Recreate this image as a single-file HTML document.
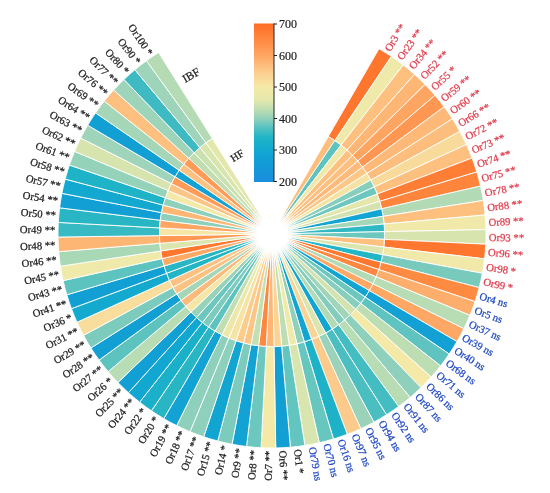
<!DOCTYPE html><html><head><meta charset="utf-8"><title>Circular heatmap</title><style>html,body{margin:0;padding:0;background:#fff}body{width:550px;height:493px;overflow:hidden}</style></head><body><svg width="550" height="493" viewBox="0 0 550 493" style="display:block">
<defs><linearGradient id="cb" x1="0" y1="1" x2="0" y2="0">
<stop offset="0.00" stop-color="#1a8ddf"/>
<stop offset="0.10" stop-color="#1399d8"/>
<stop offset="0.20" stop-color="#12a8d0"/>
<stop offset="0.28" stop-color="#1fb4c6"/>
<stop offset="0.34" stop-color="#52c0c0"/>
<stop offset="0.40" stop-color="#92d1bb"/>
<stop offset="0.46" stop-color="#c0deb2"/>
<stop offset="0.52" stop-color="#e6e8ac"/>
<stop offset="0.60" stop-color="#f5e9a8"/>
<stop offset="0.70" stop-color="#fccb8c"/>
<stop offset="0.80" stop-color="#ffa562"/>
<stop offset="0.90" stop-color="#ff8840"/>
<stop offset="1.00" stop-color="#ff6c24"/>
</linearGradient></defs>
<rect width="550" height="493" fill="#fff"/>
<g stroke="#fff" stroke-width="0.9" stroke-linejoin="round">
<path d="M328.25 136.57L379.00 48.67A214.0 214.0 0 0 1 391.42 56.42L334.78 140.65A112.5 112.5 0 0 0 328.25 136.57Z" fill="#ff762e"/>
<path d="M275.50 227.94L328.25 136.57A112.5 112.5 0 0 1 334.78 140.65L275.91 228.19A7.0 7.0 0 0 0 275.50 227.94Z" fill="#fdbd7d"/>
<path d="M334.78 140.65L391.42 56.42A214.0 214.0 0 0 1 403.29 65.00L341.02 145.16A112.5 112.5 0 0 0 334.78 140.65Z" fill="#efe9aa"/>
<path d="M275.91 228.19L334.78 140.65A112.5 112.5 0 0 1 341.02 145.16L276.29 228.47A7.0 7.0 0 0 0 275.91 228.19Z" fill="#5dc3bf"/>
<path d="M341.02 145.16L403.29 65.00A214.0 214.0 0 0 1 414.54 74.38L346.93 150.09A112.5 112.5 0 0 0 341.02 145.16Z" fill="#fdc07f"/>
<path d="M276.29 228.47L341.02 145.16A112.5 112.5 0 0 1 346.93 150.09L276.66 228.78A7.0 7.0 0 0 0 276.29 228.47Z" fill="#f1e9a9"/>
<path d="M346.93 150.09L414.54 74.38A214.0 214.0 0 0 1 425.12 84.50L352.49 155.41A112.5 112.5 0 0 0 346.93 150.09Z" fill="#feb674"/>
<path d="M276.66 228.78L346.93 150.09A112.5 112.5 0 0 1 352.49 155.41L277.01 229.11A7.0 7.0 0 0 0 276.66 228.78Z" fill="#fdc07f"/>
<path d="M352.49 155.41L425.12 84.50A214.0 214.0 0 0 1 434.98 95.32L357.68 161.09A112.5 112.5 0 0 0 352.49 155.41Z" fill="#ffa562"/>
<path d="M277.01 229.11L352.49 155.41A112.5 112.5 0 0 1 357.68 161.09L277.33 229.46A7.0 7.0 0 0 0 277.01 229.11Z" fill="#fdc07f"/>
<path d="M357.68 161.09L434.98 95.32A214.0 214.0 0 0 1 444.08 106.79L362.46 167.12A112.5 112.5 0 0 0 357.68 161.09Z" fill="#ff9651"/>
<path d="M277.33 229.46L357.68 161.09A112.5 112.5 0 0 1 362.46 167.12L277.63 229.84A7.0 7.0 0 0 0 277.33 229.46Z" fill="#fdba7a"/>
<path d="M362.46 167.12L444.08 106.79A214.0 214.0 0 0 1 452.38 118.85L366.83 173.47A112.5 112.5 0 0 0 362.46 167.12Z" fill="#feb877"/>
<path d="M277.63 229.84L362.46 167.12A112.5 112.5 0 0 1 366.83 173.47L277.90 230.23A7.0 7.0 0 0 0 277.63 229.84Z" fill="#fcc788"/>
<path d="M366.83 173.47L452.38 118.85A214.0 214.0 0 0 1 459.83 131.46L370.74 180.09A112.5 112.5 0 0 0 366.83 173.47Z" fill="#fdbd7d"/>
<path d="M277.90 230.23L366.83 173.47A112.5 112.5 0 0 1 370.74 180.09L278.14 230.65A7.0 7.0 0 0 0 277.90 230.23Z" fill="#f6e3a2"/>
<path d="M370.74 180.09L459.83 131.46A214.0 214.0 0 0 1 466.40 144.54L374.20 186.97A112.5 112.5 0 0 0 370.74 180.09Z" fill="#f8da9a"/>
<path d="M278.14 230.65L370.74 180.09A112.5 112.5 0 0 1 374.20 186.97L278.36 231.07A7.0 7.0 0 0 0 278.14 230.65Z" fill="#87cebc"/>
<path d="M374.20 186.97L466.40 144.54A214.0 214.0 0 0 1 472.07 158.04L377.18 194.07A112.5 112.5 0 0 0 374.20 186.97Z" fill="#fdc07f"/>
<path d="M278.36 231.07L374.20 186.97A112.5 112.5 0 0 1 377.18 194.07L278.54 231.52A7.0 7.0 0 0 0 278.36 231.07Z" fill="#6cc7be"/>
<path d="M377.18 194.07L472.07 158.04A214.0 214.0 0 0 1 476.79 171.90L379.66 201.36A112.5 112.5 0 0 0 377.18 194.07Z" fill="#ff7e36"/>
<path d="M278.54 231.52L377.18 194.07A112.5 112.5 0 0 1 379.66 201.36L278.70 231.97A7.0 7.0 0 0 0 278.54 231.52Z" fill="#e3e7ac"/>
<path d="M379.66 201.36L476.79 171.90A214.0 214.0 0 0 1 480.56 186.05L381.64 208.79A112.5 112.5 0 0 0 379.66 201.36Z" fill="#ff843c"/>
<path d="M278.70 231.97L379.66 201.36A112.5 112.5 0 0 1 381.64 208.79L278.82 232.43A7.0 7.0 0 0 0 278.70 231.97Z" fill="#d3e3af"/>
<path d="M381.64 208.79L480.56 186.05A214.0 214.0 0 0 1 483.35 200.43L383.11 216.35A112.5 112.5 0 0 0 381.64 208.79Z" fill="#b1dab5"/>
<path d="M278.82 232.43L381.64 208.79A112.5 112.5 0 0 1 383.11 216.35L278.91 232.90A7.0 7.0 0 0 0 278.82 232.43Z" fill="#12a4d2"/>
<path d="M383.11 216.35L483.35 200.43A214.0 214.0 0 0 1 485.15 214.96L384.05 223.99A112.5 112.5 0 0 0 383.11 216.35Z" fill="#fdc07f"/>
<path d="M278.91 232.90L383.11 216.35A112.5 112.5 0 0 1 384.05 223.99L278.97 233.38A7.0 7.0 0 0 0 278.91 232.90Z" fill="#a4d6b7"/>
<path d="M384.05 223.99L485.15 214.96A214.0 214.0 0 0 1 485.95 229.58L384.48 231.67A112.5 112.5 0 0 0 384.05 223.99Z" fill="#f1e9a9"/>
<path d="M278.97 233.38L384.05 223.99A112.5 112.5 0 0 1 384.48 231.67L279.00 233.86A7.0 7.0 0 0 0 278.97 233.38Z" fill="#30b8c4"/>
<path d="M384.48 231.67L485.95 229.58A214.0 214.0 0 0 1 485.76 244.22L384.37 239.37A112.5 112.5 0 0 0 384.48 231.67Z" fill="#d7e4ae"/>
<path d="M279.00 233.86L384.48 231.67A112.5 112.5 0 0 1 384.37 239.37L278.99 234.33A7.0 7.0 0 0 0 279.00 233.86Z" fill="#6cc7be"/>
<path d="M384.37 239.37L485.76 244.22A214.0 214.0 0 0 1 484.56 258.81L383.74 247.04A112.5 112.5 0 0 0 384.37 239.37Z" fill="#ff762e"/>
<path d="M278.99 234.33L384.37 239.37A112.5 112.5 0 0 1 383.74 247.04L278.95 234.81A7.0 7.0 0 0 0 278.99 234.33Z" fill="#fdc07f"/>
<path d="M383.74 247.04L484.56 258.81A214.0 214.0 0 0 1 482.36 273.29L382.59 254.65A112.5 112.5 0 0 0 383.74 247.04Z" fill="#f1e9a9"/>
<path d="M278.95 234.81L383.74 247.04A112.5 112.5 0 0 1 382.59 254.65L278.88 235.29A7.0 7.0 0 0 0 278.95 234.81Z" fill="#dce5ae"/>
<path d="M382.59 254.65L482.36 273.29A214.0 214.0 0 0 1 479.18 287.58L380.92 262.17A112.5 112.5 0 0 0 382.59 254.65Z" fill="#78cabd"/>
<path d="M278.88 235.29L382.59 254.65A112.5 112.5 0 0 1 380.92 262.17L278.78 235.75A7.0 7.0 0 0 0 278.88 235.29Z" fill="#22b5c6"/>
<path d="M380.92 262.17L479.18 287.58A214.0 214.0 0 0 1 475.03 301.62L378.74 269.55A112.5 112.5 0 0 0 380.92 262.17Z" fill="#ff8b43"/>
<path d="M278.78 235.75L380.92 262.17A112.5 112.5 0 0 1 378.74 269.55L278.64 236.21A7.0 7.0 0 0 0 278.78 235.75Z" fill="#ff762e"/>
<path d="M378.74 269.55L475.03 301.62A214.0 214.0 0 0 1 469.94 315.35L376.05 276.77A112.5 112.5 0 0 0 378.74 269.55Z" fill="#feae6c"/>
<path d="M278.64 236.21L378.74 269.55A112.5 112.5 0 0 1 376.05 276.77L278.47 236.66A7.0 7.0 0 0 0 278.64 236.21Z" fill="#ff8840"/>
<path d="M376.05 276.77L469.94 315.35A214.0 214.0 0 0 1 463.91 328.69L372.89 283.78A112.5 112.5 0 0 0 376.05 276.77Z" fill="#b8dcb4"/>
<path d="M278.47 236.66L376.05 276.77A112.5 112.5 0 0 1 372.89 283.78L278.28 237.10A7.0 7.0 0 0 0 278.47 236.66Z" fill="#b1dab5"/>
<path d="M372.89 283.78L463.91 328.69A214.0 214.0 0 0 1 456.98 341.60L369.25 290.56A112.5 112.5 0 0 0 372.89 283.78Z" fill="#ffa765"/>
<path d="M278.28 237.10L372.89 283.78A112.5 112.5 0 0 1 369.25 290.56L278.05 237.52A7.0 7.0 0 0 0 278.28 237.10Z" fill="#ffa765"/>
<path d="M369.25 290.56L456.98 341.60A214.0 214.0 0 0 1 449.19 353.99L365.15 297.08A112.5 112.5 0 0 0 369.25 290.56Z" fill="#13a0d4"/>
<path d="M278.05 237.52L369.25 290.56A112.5 112.5 0 0 1 365.15 297.08L277.80 237.93A7.0 7.0 0 0 0 278.05 237.52Z" fill="#12a5d2"/>
<path d="M365.15 297.08L449.19 353.99A214.0 214.0 0 0 1 440.57 365.83L360.62 303.30A112.5 112.5 0 0 0 365.15 297.08Z" fill="#5fc3bf"/>
<path d="M277.80 237.93L365.15 297.08A112.5 112.5 0 0 1 360.62 303.30L277.51 238.31A7.0 7.0 0 0 0 277.80 237.93Z" fill="#6cc7be"/>
<path d="M360.62 303.30L440.57 365.83A214.0 214.0 0 0 1 431.16 377.05L355.67 309.20A112.5 112.5 0 0 0 360.62 303.30Z" fill="#bdddb3"/>
<path d="M277.51 238.31L360.62 303.30A112.5 112.5 0 0 1 355.67 309.20L277.21 238.68A7.0 7.0 0 0 0 277.51 238.31Z" fill="#87cebc"/>
<path d="M355.67 309.20L431.16 377.05A214.0 214.0 0 0 1 421.01 387.60L350.33 314.75A112.5 112.5 0 0 0 355.67 309.20Z" fill="#f5e9a8"/>
<path d="M277.21 238.68L355.67 309.20A112.5 112.5 0 0 1 350.33 314.75L276.87 239.02A7.0 7.0 0 0 0 277.21 238.68Z" fill="#d3e3af"/>
<path d="M350.33 314.75L421.01 387.60A214.0 214.0 0 0 1 410.16 397.43L344.63 319.91A112.5 112.5 0 0 0 350.33 314.75Z" fill="#8ed0bb"/>
<path d="M276.87 239.02L350.33 314.75A112.5 112.5 0 0 1 344.63 319.91L276.52 239.35A7.0 7.0 0 0 0 276.87 239.02Z" fill="#a1d5b8"/>
<path d="M344.63 319.91L410.16 397.43A214.0 214.0 0 0 1 398.66 406.49L338.58 324.68A112.5 112.5 0 0 0 344.63 319.91Z" fill="#b8dcb4"/>
<path d="M276.52 239.35L344.63 319.91A112.5 112.5 0 0 1 338.58 324.68L276.14 239.64A7.0 7.0 0 0 0 276.52 239.35Z" fill="#83cdbc"/>
<path d="M338.58 324.68L398.66 406.49A214.0 214.0 0 0 1 386.57 414.75L332.23 329.02A112.5 112.5 0 0 0 338.58 324.68Z" fill="#44bdc2"/>
<path d="M276.14 239.64L338.58 324.68A112.5 112.5 0 0 1 332.23 329.02L275.75 239.91A7.0 7.0 0 0 0 276.14 239.64Z" fill="#b1dab5"/>
<path d="M332.23 329.02L386.57 414.75A214.0 214.0 0 0 1 373.94 422.16L325.59 332.92A112.5 112.5 0 0 0 332.23 329.02Z" fill="#4bbec1"/>
<path d="M275.75 239.91L332.23 329.02A112.5 112.5 0 0 1 325.59 332.92L275.33 240.15A7.0 7.0 0 0 0 275.75 239.91Z" fill="#12a5d2"/>
<path d="M325.59 332.92L373.94 422.16A214.0 214.0 0 0 1 360.83 428.69L318.70 336.35A112.5 112.5 0 0 0 325.59 332.92Z" fill="#9ad3ba"/>
<path d="M275.33 240.15L325.59 332.92A112.5 112.5 0 0 1 318.70 336.35L274.91 240.37A7.0 7.0 0 0 0 275.33 240.15Z" fill="#dce5ae"/>
<path d="M318.70 336.35L360.83 428.69A214.0 214.0 0 0 1 347.31 434.31L311.59 339.30A112.5 112.5 0 0 0 318.70 336.35Z" fill="#fccb8c"/>
<path d="M274.91 240.37L318.70 336.35A112.5 112.5 0 0 1 311.59 339.30L274.46 240.55A7.0 7.0 0 0 0 274.91 240.37Z" fill="#fad494"/>
<path d="M311.59 339.30L347.31 434.31A214.0 214.0 0 0 1 333.44 438.99L304.30 341.76A112.5 112.5 0 0 0 311.59 339.30Z" fill="#1db2c7"/>
<path d="M274.46 240.55L311.59 339.30A112.5 112.5 0 0 1 304.30 341.76L274.01 240.71A7.0 7.0 0 0 0 274.46 240.55Z" fill="#12a5d2"/>
<path d="M304.30 341.76L333.44 438.99A214.0 214.0 0 0 1 319.28 442.71L296.85 343.72A112.5 112.5 0 0 0 304.30 341.76Z" fill="#67c6be"/>
<path d="M274.01 240.71L304.30 341.76A112.5 112.5 0 0 1 296.85 343.72L273.55 240.83A7.0 7.0 0 0 0 274.01 240.71Z" fill="#8ed0bb"/>
<path d="M296.85 343.72L319.28 442.71A214.0 214.0 0 0 1 304.89 445.46L289.29 345.16A112.5 112.5 0 0 0 296.85 343.72Z" fill="#d9e5ae"/>
<path d="M273.55 240.83L296.85 343.72A112.5 112.5 0 0 1 289.29 345.16L273.08 240.92A7.0 7.0 0 0 0 273.55 240.83Z" fill="#efe9aa"/>
<path d="M289.29 345.16L304.89 445.46A214.0 214.0 0 0 1 290.36 447.21L281.65 346.09A112.5 112.5 0 0 0 289.29 345.16Z" fill="#63c5bf"/>
<path d="M273.08 240.92L289.29 345.16A112.5 112.5 0 0 1 281.65 346.09L272.60 240.97A7.0 7.0 0 0 0 273.08 240.92Z" fill="#bdddb3"/>
<path d="M281.65 346.09L290.36 447.21A214.0 214.0 0 0 1 275.73 447.97L273.96 346.48A112.5 112.5 0 0 0 281.65 346.09Z" fill="#12a0d4"/>
<path d="M272.60 240.97L281.65 346.09A112.5 112.5 0 0 1 273.96 346.48L272.12 241.00A7.0 7.0 0 0 0 272.60 240.97Z" fill="#fad494"/>
<path d="M273.96 346.48L275.73 447.97A214.0 214.0 0 0 1 261.09 447.72L266.27 346.35A112.5 112.5 0 0 0 273.96 346.48Z" fill="#f5e9a8"/>
<path d="M272.12 241.00L273.96 346.48A112.5 112.5 0 0 1 266.27 346.35L271.64 240.99A7.0 7.0 0 0 0 272.12 241.00Z" fill="#feb674"/>
<path d="M266.27 346.35L261.09 447.72A214.0 214.0 0 0 1 246.51 446.48L258.60 345.70A112.5 112.5 0 0 0 266.27 346.35Z" fill="#6cc7be"/>
<path d="M271.64 240.99L266.27 346.35A112.5 112.5 0 0 1 258.60 345.70L271.17 240.95A7.0 7.0 0 0 0 271.64 240.99Z" fill="#ff8840"/>
<path d="M258.60 345.70L246.51 446.48A214.0 214.0 0 0 1 232.04 444.24L250.99 344.52A112.5 112.5 0 0 0 258.60 345.70Z" fill="#12a2d3"/>
<path d="M271.17 240.95L258.60 345.70A112.5 112.5 0 0 1 250.99 344.52L270.69 240.88A7.0 7.0 0 0 0 271.17 240.95Z" fill="#c4dfb1"/>
<path d="M250.99 344.52L232.04 444.24A214.0 214.0 0 0 1 217.75 441.01L243.48 342.83A112.5 112.5 0 0 0 250.99 344.52Z" fill="#7dcbbd"/>
<path d="M270.69 240.88L250.99 344.52A112.5 112.5 0 0 1 243.48 342.83L270.23 240.77A7.0 7.0 0 0 0 270.69 240.88Z" fill="#fcc585"/>
<path d="M243.48 342.83L217.75 441.01A214.0 214.0 0 0 1 203.72 436.82L236.11 340.62A112.5 112.5 0 0 0 243.48 342.83Z" fill="#12a5d2"/>
<path d="M270.23 240.77L243.48 342.83A112.5 112.5 0 0 1 236.11 340.62L269.77 240.63A7.0 7.0 0 0 0 270.23 240.77Z" fill="#fccc8d"/>
<path d="M236.11 340.62L203.72 436.82A214.0 214.0 0 0 1 190.01 431.67L228.90 337.92A112.5 112.5 0 0 0 236.11 340.62Z" fill="#8ed0bb"/>
<path d="M269.77 240.63L236.11 340.62A112.5 112.5 0 0 1 228.90 337.92L269.32 240.47A7.0 7.0 0 0 0 269.77 240.63Z" fill="#f6e4a4"/>
<path d="M228.90 337.92L190.01 431.67A214.0 214.0 0 0 1 176.69 425.60L221.90 334.73A112.5 112.5 0 0 0 228.90 337.92Z" fill="#8ed0bb"/>
<path d="M269.32 240.47L228.90 337.92A112.5 112.5 0 0 1 221.90 334.73L268.88 240.27A7.0 7.0 0 0 0 269.32 240.47Z" fill="#ede8aa"/>
<path d="M221.90 334.73L176.69 425.60A214.0 214.0 0 0 1 163.81 418.64L215.12 331.06A112.5 112.5 0 0 0 221.90 334.73Z" fill="#12a2d3"/>
<path d="M268.88 240.27L221.90 334.73A112.5 112.5 0 0 1 215.12 331.06L268.46 240.04A7.0 7.0 0 0 0 268.88 240.27Z" fill="#c0deb2"/>
<path d="M215.12 331.06L163.81 418.64A214.0 214.0 0 0 1 151.44 410.81L208.62 326.95A112.5 112.5 0 0 0 215.12 331.06Z" fill="#28b6c5"/>
<path d="M268.46 240.04L215.12 331.06A112.5 112.5 0 0 1 208.62 326.95L268.06 239.78A7.0 7.0 0 0 0 268.46 240.04Z" fill="#5dc3bf"/>
<path d="M208.62 326.95L151.44 410.81A214.0 214.0 0 0 1 139.63 402.15L202.41 322.40A112.5 112.5 0 0 0 208.62 326.95Z" fill="#1ab0ca"/>
<path d="M268.06 239.78L208.62 326.95A112.5 112.5 0 0 1 202.41 322.40L267.67 239.50A7.0 7.0 0 0 0 268.06 239.78Z" fill="#7dcbbd"/>
<path d="M202.41 322.40L139.63 402.15A214.0 214.0 0 0 1 128.44 392.70L196.53 317.43A112.5 112.5 0 0 0 202.41 322.40Z" fill="#12a7d0"/>
<path d="M267.67 239.50L202.41 322.40A112.5 112.5 0 0 1 196.53 317.43L267.30 239.19A7.0 7.0 0 0 0 267.67 239.50Z" fill="#6cc7be"/>
<path d="M196.53 317.43L128.44 392.70A214.0 214.0 0 0 1 117.92 382.52L191.00 312.07A112.5 112.5 0 0 0 196.53 317.43Z" fill="#12a0d4"/>
<path d="M267.30 239.19L196.53 317.43A112.5 112.5 0 0 1 191.00 312.07L266.96 238.86A7.0 7.0 0 0 0 267.30 239.19Z" fill="#97d2ba"/>
<path d="M191.00 312.07L117.92 382.52A214.0 214.0 0 0 1 108.13 371.63L185.85 306.35A112.5 112.5 0 0 0 191.00 312.07Z" fill="#b8dcb4"/>
<path d="M266.96 238.86L191.00 312.07A112.5 112.5 0 0 1 185.85 306.35L266.64 238.50A7.0 7.0 0 0 0 266.96 238.86Z" fill="#f6e6a5"/>
<path d="M185.85 306.35L108.13 371.63A214.0 214.0 0 0 1 99.10 360.10L181.11 300.29A112.5 112.5 0 0 0 185.85 306.35Z" fill="#5dc3bf"/>
<path d="M266.64 238.50L185.85 306.35A112.5 112.5 0 0 1 181.11 300.29L266.34 238.12A7.0 7.0 0 0 0 266.64 238.50Z" fill="#fdba7a"/>
<path d="M181.11 300.29L99.10 360.10A214.0 214.0 0 0 1 90.88 347.99L176.79 293.92A112.5 112.5 0 0 0 181.11 300.29Z" fill="#12a0d4"/>
<path d="M266.34 238.12L181.11 300.29A112.5 112.5 0 0 1 176.79 293.92L266.08 237.73A7.0 7.0 0 0 0 266.34 238.12Z" fill="#a4d6b7"/>
<path d="M176.79 293.92L90.88 347.99A214.0 214.0 0 0 1 83.51 335.33L172.91 287.27A112.5 112.5 0 0 0 176.79 293.92Z" fill="#7dcbbd"/>
<path d="M266.08 237.73L176.79 293.92A112.5 112.5 0 0 1 172.91 287.27L265.83 237.31A7.0 7.0 0 0 0 266.08 237.73Z" fill="#fdc282"/>
<path d="M172.91 287.27L83.51 335.33A214.0 214.0 0 0 1 77.02 322.21L169.50 280.37A112.5 112.5 0 0 0 172.91 287.27Z" fill="#f8dd9d"/>
<path d="M265.83 237.31L172.91 287.27A112.5 112.5 0 0 1 169.50 280.37L265.62 236.89A7.0 7.0 0 0 0 265.83 237.31Z" fill="#fdc282"/>
<path d="M169.50 280.37L77.02 322.21A214.0 214.0 0 0 1 71.45 308.67L166.57 273.25A112.5 112.5 0 0 0 169.50 280.37Z" fill="#14aacf"/>
<path d="M265.62 236.89L169.50 280.37A112.5 112.5 0 0 1 166.57 273.25L265.44 236.44A7.0 7.0 0 0 0 265.62 236.89Z" fill="#22b5c6"/>
<path d="M166.57 273.25L71.45 308.67A214.0 214.0 0 0 1 66.81 294.78L164.13 265.95A112.5 112.5 0 0 0 166.57 273.25Z" fill="#12a0d4"/>
<path d="M265.44 236.44L166.57 273.25A112.5 112.5 0 0 1 164.13 265.95L265.29 235.99A7.0 7.0 0 0 0 265.44 236.44Z" fill="#29b6c5"/>
<path d="M164.13 265.95L66.81 294.78A214.0 214.0 0 0 1 63.14 280.61L162.20 258.50A112.5 112.5 0 0 0 164.13 265.95Z" fill="#5dc3bf"/>
<path d="M265.29 235.99L164.13 265.95A112.5 112.5 0 0 1 162.20 258.50L265.17 235.52A7.0 7.0 0 0 0 265.29 235.99Z" fill="#ffa966"/>
<path d="M162.20 258.50L63.14 280.61A214.0 214.0 0 0 1 60.44 266.21L160.78 250.94A112.5 112.5 0 0 0 162.20 258.50Z" fill="#efe9aa"/>
<path d="M265.17 235.52L162.20 258.50A112.5 112.5 0 0 1 160.78 250.94L265.08 235.05A7.0 7.0 0 0 0 265.17 235.52Z" fill="#ff772f"/>
<path d="M160.78 250.94L60.44 266.21A214.0 214.0 0 0 1 58.73 251.67L159.88 243.29A112.5 112.5 0 0 0 160.78 250.94Z" fill="#a9d8b6"/>
<path d="M265.08 235.05L160.78 250.94A112.5 112.5 0 0 1 159.88 243.29L265.02 234.58A7.0 7.0 0 0 0 265.08 235.05Z" fill="#dce5ae"/>
<path d="M159.88 243.29L58.73 251.67A214.0 214.0 0 0 1 58.02 237.05L159.51 235.60A112.5 112.5 0 0 0 159.88 243.29Z" fill="#feb674"/>
<path d="M265.02 234.58L159.88 243.29A112.5 112.5 0 0 1 159.51 235.60L265.00 234.10A7.0 7.0 0 0 0 265.02 234.58Z" fill="#ff9853"/>
<path d="M159.51 235.60L58.02 237.05A214.0 214.0 0 0 1 58.31 222.41L159.67 227.91A112.5 112.5 0 0 0 159.51 235.60Z" fill="#38bac3"/>
<path d="M265.00 234.10L159.51 235.60A112.5 112.5 0 0 1 159.67 227.91L265.01 233.62A7.0 7.0 0 0 0 265.00 234.10Z" fill="#f6e6a5"/>
<path d="M159.67 227.91L58.31 222.41A214.0 214.0 0 0 1 59.61 207.82L160.34 220.24A112.5 112.5 0 0 0 159.67 227.91Z" fill="#28b6c5"/>
<path d="M265.01 233.62L159.67 227.91A112.5 112.5 0 0 1 160.34 220.24L265.05 233.14A7.0 7.0 0 0 0 265.01 233.62Z" fill="#ffa562"/>
<path d="M160.34 220.24L59.61 207.82A214.0 214.0 0 0 1 61.89 193.36L161.55 212.64A112.5 112.5 0 0 0 160.34 220.24Z" fill="#12a0d4"/>
<path d="M265.05 233.14L160.34 220.24A112.5 112.5 0 0 1 161.55 212.64L265.13 232.67A7.0 7.0 0 0 0 265.05 233.14Z" fill="#8ed0bb"/>
<path d="M161.55 212.64L61.89 193.36A214.0 214.0 0 0 1 65.17 179.09L163.27 205.13A112.5 112.5 0 0 0 161.55 212.64Z" fill="#12a8d0"/>
<path d="M265.13 232.67L161.55 212.64A112.5 112.5 0 0 1 163.27 205.13L265.23 232.20A7.0 7.0 0 0 0 265.13 232.67Z" fill="#feb674"/>
<path d="M163.27 205.13L65.17 179.09A214.0 214.0 0 0 1 69.40 165.07L165.50 197.76A112.5 112.5 0 0 0 163.27 205.13Z" fill="#1eb3c6"/>
<path d="M265.23 232.20L163.27 205.13A112.5 112.5 0 0 1 165.50 197.76L265.37 231.75A7.0 7.0 0 0 0 265.23 232.20Z" fill="#8ed0bb"/>
<path d="M165.50 197.76L69.40 165.07A214.0 214.0 0 0 1 74.59 151.38L168.22 190.57A112.5 112.5 0 0 0 165.50 197.76Z" fill="#95d2ba"/>
<path d="M265.37 231.75L165.50 197.76A112.5 112.5 0 0 1 168.22 190.57L265.54 231.30A7.0 7.0 0 0 0 265.37 231.75Z" fill="#f3e9a8"/>
<path d="M168.22 190.57L74.59 151.38A214.0 214.0 0 0 1 80.70 138.07L171.44 183.57A112.5 112.5 0 0 0 168.22 190.57Z" fill="#d7e4ae"/>
<path d="M265.54 231.30L168.22 190.57A112.5 112.5 0 0 1 171.44 183.57L265.74 230.86A7.0 7.0 0 0 0 265.54 231.30Z" fill="#fcc585"/>
<path d="M171.44 183.57L80.70 138.07A214.0 214.0 0 0 1 87.71 125.22L175.12 176.81A112.5 112.5 0 0 0 171.44 183.57Z" fill="#9ed4b9"/>
<path d="M265.74 230.86L171.44 183.57A112.5 112.5 0 0 1 175.12 176.81L265.97 230.44A7.0 7.0 0 0 0 265.74 230.86Z" fill="#ff9b56"/>
<path d="M175.12 176.81L87.71 125.22A214.0 214.0 0 0 1 95.58 112.87L179.26 170.32A112.5 112.5 0 0 0 175.12 176.81Z" fill="#12a0d4"/>
<path d="M265.97 230.44L175.12 176.81A112.5 112.5 0 0 1 179.26 170.32L266.23 230.04A7.0 7.0 0 0 0 265.97 230.44Z" fill="#12a2d3"/>
<path d="M179.26 170.32L95.58 112.87A214.0 214.0 0 0 1 104.28 101.09L183.83 164.13A112.5 112.5 0 0 0 179.26 170.32Z" fill="#a4d6b7"/>
<path d="M266.23 230.04L179.26 170.32A112.5 112.5 0 0 1 183.83 164.13L266.51 229.65A7.0 7.0 0 0 0 266.23 230.04Z" fill="#fdc282"/>
<path d="M183.83 164.13L104.28 101.09A214.0 214.0 0 0 1 113.76 89.93L188.81 158.26A112.5 112.5 0 0 0 183.83 164.13Z" fill="#fdc07f"/>
<path d="M266.51 229.65L183.83 164.13A112.5 112.5 0 0 1 188.81 158.26L266.82 229.29A7.0 7.0 0 0 0 266.51 229.65Z" fill="#ff9b56"/>
<path d="M188.81 158.26L113.76 89.93A214.0 214.0 0 0 1 123.98 79.45L194.19 152.75A112.5 112.5 0 0 0 188.81 158.26Z" fill="#9ed4b9"/>
<path d="M266.82 229.29L188.81 158.26A112.5 112.5 0 0 1 194.19 152.75L267.16 228.94A7.0 7.0 0 0 0 266.82 229.29Z" fill="#c0deb2"/>
<path d="M194.19 152.75L123.98 79.45A214.0 214.0 0 0 1 134.90 69.69L199.92 147.62A112.5 112.5 0 0 0 194.19 152.75Z" fill="#3ebbc2"/>
<path d="M267.16 228.94L194.19 152.75A112.5 112.5 0 0 1 199.92 147.62L267.52 228.63A7.0 7.0 0 0 0 267.16 228.94Z" fill="#cae1b0"/>
<path d="M199.92 147.62L134.90 69.69A214.0 214.0 0 0 1 146.45 60.70L206.00 142.89A112.5 112.5 0 0 0 199.92 147.62Z" fill="#9ed4b9"/>
<path d="M267.52 228.63L199.92 147.62A112.5 112.5 0 0 1 206.00 142.89L267.89 228.33A7.0 7.0 0 0 0 267.52 228.63Z" fill="#d9e5ae"/>
<path d="M206.00 142.89L146.45 60.70A214.0 214.0 0 0 1 158.60 52.52L212.38 138.59A112.5 112.5 0 0 0 206.00 142.89Z" fill="#b4dbb4"/>
<path d="M267.89 228.33L206.00 142.89A112.5 112.5 0 0 1 212.38 138.59L268.29 228.06A7.0 7.0 0 0 0 267.89 228.33Z" fill="#e3e7ac"/>
</g>
<defs><radialGradient id="glow"><stop offset="0" stop-color="#fff" stop-opacity="1"/><stop offset="0.48" stop-color="#fff" stop-opacity="1"/><stop offset="0.7" stop-color="#fff" stop-opacity="0.45"/><stop offset="1" stop-color="#fff" stop-opacity="0"/></radialGradient></defs>
<circle cx="272.3" cy="235.2" r="30" fill="url(#glow)"/>
<g font-family="'Liberation Serif', serif" font-size="10.7">
<text x="386.76" y="50.06" fill="#e04050" stroke="#e04050" stroke-width="0.25" text-anchor="start" dominant-baseline="central" transform="rotate(-58.04 386.76 50.06)">Or3 **</text>
<text x="399.07" y="58.34" fill="#e04050" stroke="#e04050" stroke-width="0.25" text-anchor="start" dominant-baseline="central" transform="rotate(-54.12 399.07 58.34)">Or23 **</text>
<text x="410.78" y="67.44" fill="#e04050" stroke="#e04050" stroke-width="0.25" text-anchor="start" dominant-baseline="central" transform="rotate(-50.20 410.78 67.44)">Or34 **</text>
<text x="421.85" y="77.32" fill="#e04050" stroke="#e04050" stroke-width="0.25" text-anchor="start" dominant-baseline="central" transform="rotate(-46.28 421.85 77.32)">Or52 **</text>
<text x="432.21" y="87.94" fill="#e04050" stroke="#e04050" stroke-width="0.25" text-anchor="start" dominant-baseline="central" transform="rotate(-42.36 432.21 87.94)">Or55 *</text>
<text x="441.82" y="99.23" fill="#e04050" stroke="#e04050" stroke-width="0.25" text-anchor="start" dominant-baseline="central" transform="rotate(-38.43 441.82 99.23)">Or59 **</text>
<text x="450.64" y="111.16" fill="#e04050" stroke="#e04050" stroke-width="0.25" text-anchor="start" dominant-baseline="central" transform="rotate(-34.51 450.64 111.16)">Or60 **</text>
<text x="458.62" y="123.67" fill="#e04050" stroke="#e04050" stroke-width="0.25" text-anchor="start" dominant-baseline="central" transform="rotate(-30.59 458.62 123.67)">Or66 **</text>
<text x="465.73" y="136.69" fill="#e04050" stroke="#e04050" stroke-width="0.25" text-anchor="start" dominant-baseline="central" transform="rotate(-26.67 465.73 136.69)">Or72 **</text>
<text x="471.93" y="150.16" fill="#e04050" stroke="#e04050" stroke-width="0.25" text-anchor="start" dominant-baseline="central" transform="rotate(-22.75 471.93 150.16)">Or73 **</text>
<text x="477.20" y="164.03" fill="#e04050" stroke="#e04050" stroke-width="0.25" text-anchor="start" dominant-baseline="central" transform="rotate(-18.83 477.20 164.03)">Or74 **</text>
<text x="481.50" y="178.22" fill="#e04050" stroke="#e04050" stroke-width="0.25" text-anchor="start" dominant-baseline="central" transform="rotate(-14.91 481.50 178.22)">Or75 **</text>
<text x="484.83" y="192.68" fill="#e04050" stroke="#e04050" stroke-width="0.25" text-anchor="start" dominant-baseline="central" transform="rotate(-10.99 484.83 192.68)">Or78 **</text>
<text x="487.15" y="207.33" fill="#e04050" stroke="#e04050" stroke-width="0.25" text-anchor="start" dominant-baseline="central" transform="rotate(-7.07 487.15 207.33)">Or88 **</text>
<text x="488.47" y="222.11" fill="#e04050" stroke="#e04050" stroke-width="0.25" text-anchor="start" dominant-baseline="central" transform="rotate(-3.14 488.47 222.11)">Or89 **</text>
<text x="488.78" y="236.94" fill="#e04050" stroke="#e04050" stroke-width="0.25" text-anchor="start" dominant-baseline="central" transform="rotate(0.78 488.78 236.94)">Or93 **</text>
<text x="488.07" y="251.75" fill="#e04050" stroke="#e04050" stroke-width="0.25" text-anchor="start" dominant-baseline="central" transform="rotate(4.70 488.07 251.75)">Or96 **</text>
<text x="486.35" y="266.49" fill="#e04050" stroke="#e04050" stroke-width="0.25" text-anchor="start" dominant-baseline="central" transform="rotate(8.62 486.35 266.49)">Or98 *</text>
<text x="483.63" y="281.07" fill="#e04050" stroke="#e04050" stroke-width="0.25" text-anchor="start" dominant-baseline="central" transform="rotate(12.54 483.63 281.07)">Or99 *</text>
<text x="479.91" y="295.43" fill="#1f48c4" stroke="#1f48c4" stroke-width="0.25" text-anchor="start" dominant-baseline="central" transform="rotate(16.46 479.91 295.43)">Or4 ns</text>
<text x="475.23" y="309.51" fill="#1f48c4" stroke="#1f48c4" stroke-width="0.25" text-anchor="start" dominant-baseline="central" transform="rotate(20.38 475.23 309.51)">Or5 ns</text>
<text x="469.59" y="323.23" fill="#1f48c4" stroke="#1f48c4" stroke-width="0.25" text-anchor="start" dominant-baseline="central" transform="rotate(24.30 469.59 323.23)">Or37 ns</text>
<text x="463.02" y="336.53" fill="#1f48c4" stroke="#1f48c4" stroke-width="0.25" text-anchor="start" dominant-baseline="central" transform="rotate(28.22 463.02 336.53)">Or39 ns</text>
<text x="455.57" y="349.35" fill="#1f48c4" stroke="#1f48c4" stroke-width="0.25" text-anchor="start" dominant-baseline="central" transform="rotate(32.14 455.57 349.35)">Or40 ns</text>
<text x="447.25" y="361.63" fill="#1f48c4" stroke="#1f48c4" stroke-width="0.25" text-anchor="start" dominant-baseline="central" transform="rotate(36.07 447.25 361.63)">Or68 ns</text>
<text x="438.11" y="373.32" fill="#1f48c4" stroke="#1f48c4" stroke-width="0.25" text-anchor="start" dominant-baseline="central" transform="rotate(39.99 438.11 373.32)">Or71 ns</text>
<text x="428.19" y="384.35" fill="#1f48c4" stroke="#1f48c4" stroke-width="0.25" text-anchor="start" dominant-baseline="central" transform="rotate(43.91 428.19 384.35)">Or86 ns</text>
<text x="417.55" y="394.68" fill="#1f48c4" stroke="#1f48c4" stroke-width="0.25" text-anchor="start" dominant-baseline="central" transform="rotate(47.83 417.55 394.68)">Or87 ns</text>
<text x="406.22" y="404.26" fill="#1f48c4" stroke="#1f48c4" stroke-width="0.25" text-anchor="start" dominant-baseline="central" transform="rotate(51.75 406.22 404.26)">Or91 ns</text>
<text x="394.26" y="413.04" fill="#1f48c4" stroke="#1f48c4" stroke-width="0.25" text-anchor="start" dominant-baseline="central" transform="rotate(55.67 394.26 413.04)">Or92 ns</text>
<text x="381.73" y="420.98" fill="#1f48c4" stroke="#1f48c4" stroke-width="0.25" text-anchor="start" dominant-baseline="central" transform="rotate(59.59 381.73 420.98)">Or94 ns</text>
<text x="368.69" y="428.04" fill="#1f48c4" stroke="#1f48c4" stroke-width="0.25" text-anchor="start" dominant-baseline="central" transform="rotate(63.51 368.69 428.04)">Or95 ns</text>
<text x="355.20" y="434.20" fill="#1f48c4" stroke="#1f48c4" stroke-width="0.25" text-anchor="start" dominant-baseline="central" transform="rotate(67.43 355.20 434.20)">Or97 ns</text>
<text x="341.31" y="439.42" fill="#1f48c4" stroke="#1f48c4" stroke-width="0.25" text-anchor="start" dominant-baseline="central" transform="rotate(71.36 341.31 439.42)">Or16 ns</text>
<text x="327.10" y="443.68" fill="#1f48c4" stroke="#1f48c4" stroke-width="0.25" text-anchor="start" dominant-baseline="central" transform="rotate(75.28 327.10 443.68)">Or70 ns</text>
<text x="312.63" y="446.96" fill="#1f48c4" stroke="#1f48c4" stroke-width="0.25" text-anchor="start" dominant-baseline="central" transform="rotate(79.20 312.63 446.96)">Or79 ns</text>
<text x="297.98" y="449.24" fill="#222" stroke="#222" stroke-width="0.25" text-anchor="start" dominant-baseline="central" transform="rotate(83.12 297.98 449.24)">Or1 *</text>
<text x="283.20" y="450.51" fill="#222" stroke="#222" stroke-width="0.25" text-anchor="start" dominant-baseline="central" transform="rotate(87.04 283.20 450.51)">Or6 **</text>
<text x="268.37" y="450.77" fill="#222" stroke="#222" stroke-width="0.25" text-anchor="end" dominant-baseline="central" transform="rotate(270.96 268.37 450.77)">Or7 **</text>
<text x="253.55" y="450.01" fill="#222" stroke="#222" stroke-width="0.25" text-anchor="end" dominant-baseline="central" transform="rotate(274.88 253.55 450.01)">Or8 **</text>
<text x="238.82" y="448.25" fill="#222" stroke="#222" stroke-width="0.25" text-anchor="end" dominant-baseline="central" transform="rotate(278.80 238.82 448.25)">Or9 **</text>
<text x="224.25" y="445.48" fill="#222" stroke="#222" stroke-width="0.25" text-anchor="end" dominant-baseline="central" transform="rotate(282.72 224.25 445.48)">Or14 *</text>
<text x="209.90" y="441.72" fill="#222" stroke="#222" stroke-width="0.25" text-anchor="end" dominant-baseline="central" transform="rotate(286.64 209.90 441.72)">Or15 **</text>
<text x="195.84" y="436.98" fill="#222" stroke="#222" stroke-width="0.25" text-anchor="end" dominant-baseline="central" transform="rotate(290.57 195.84 436.98)">Or17 **</text>
<text x="182.14" y="431.30" fill="#222" stroke="#222" stroke-width="0.25" text-anchor="end" dominant-baseline="central" transform="rotate(294.49 182.14 431.30)">Or18 **</text>
<text x="168.86" y="424.69" fill="#222" stroke="#222" stroke-width="0.25" text-anchor="end" dominant-baseline="central" transform="rotate(298.41 168.86 424.69)">Or19 **</text>
<text x="156.06" y="417.19" fill="#222" stroke="#222" stroke-width="0.25" text-anchor="end" dominant-baseline="central" transform="rotate(302.33 156.06 417.19)">Or20 *</text>
<text x="143.80" y="408.84" fill="#222" stroke="#222" stroke-width="0.25" text-anchor="end" dominant-baseline="central" transform="rotate(306.25 143.80 408.84)">Or22 *</text>
<text x="132.15" y="399.66" fill="#222" stroke="#222" stroke-width="0.25" text-anchor="end" dominant-baseline="central" transform="rotate(310.17 132.15 399.66)">Or24 **</text>
<text x="121.15" y="389.71" fill="#222" stroke="#222" stroke-width="0.25" text-anchor="end" dominant-baseline="central" transform="rotate(314.09 121.15 389.71)">Or25 **</text>
<text x="110.85" y="379.03" fill="#222" stroke="#222" stroke-width="0.25" text-anchor="end" dominant-baseline="central" transform="rotate(318.01 110.85 379.03)">Or26 *</text>
<text x="101.31" y="367.67" fill="#222" stroke="#222" stroke-width="0.25" text-anchor="end" dominant-baseline="central" transform="rotate(321.93 101.31 367.67)">Or27 **</text>
<text x="92.57" y="355.69" fill="#222" stroke="#222" stroke-width="0.25" text-anchor="end" dominant-baseline="central" transform="rotate(325.86 92.57 355.69)">Or28 **</text>
<text x="84.67" y="343.13" fill="#222" stroke="#222" stroke-width="0.25" text-anchor="end" dominant-baseline="central" transform="rotate(329.78 84.67 343.13)">Or29 **</text>
<text x="77.65" y="330.07" fill="#222" stroke="#222" stroke-width="0.25" text-anchor="end" dominant-baseline="central" transform="rotate(333.70 77.65 330.07)">Or31 **</text>
<text x="71.53" y="316.55" fill="#222" stroke="#222" stroke-width="0.25" text-anchor="end" dominant-baseline="central" transform="rotate(337.62 71.53 316.55)">Or36 *</text>
<text x="66.36" y="302.65" fill="#222" stroke="#222" stroke-width="0.25" text-anchor="end" dominant-baseline="central" transform="rotate(341.54 66.36 302.65)">Or41 **</text>
<text x="62.14" y="288.43" fill="#222" stroke="#222" stroke-width="0.25" text-anchor="end" dominant-baseline="central" transform="rotate(345.46 62.14 288.43)">Or43 **</text>
<text x="58.91" y="273.95" fill="#222" stroke="#222" stroke-width="0.25" text-anchor="end" dominant-baseline="central" transform="rotate(349.38 58.91 273.95)">Or45 **</text>
<text x="56.68" y="259.28" fill="#222" stroke="#222" stroke-width="0.25" text-anchor="end" dominant-baseline="central" transform="rotate(353.30 56.68 259.28)">Or46 **</text>
<text x="55.45" y="244.50" fill="#222" stroke="#222" stroke-width="0.25" text-anchor="end" dominant-baseline="central" transform="rotate(357.22 55.45 244.50)">Or48 **</text>
<text x="55.24" y="229.67" fill="#222" stroke="#222" stroke-width="0.25" text-anchor="end" dominant-baseline="central" transform="rotate(361.14 55.24 229.67)">Or49 **</text>
<text x="56.05" y="214.86" fill="#222" stroke="#222" stroke-width="0.25" text-anchor="end" dominant-baseline="central" transform="rotate(365.07 56.05 214.86)">Or50 **</text>
<text x="57.86" y="200.13" fill="#222" stroke="#222" stroke-width="0.25" text-anchor="end" dominant-baseline="central" transform="rotate(368.99 57.86 200.13)">Or54 **</text>
<text x="60.68" y="185.57" fill="#222" stroke="#222" stroke-width="0.25" text-anchor="end" dominant-baseline="central" transform="rotate(372.91 60.68 185.57)">Or57 **</text>
<text x="64.48" y="171.23" fill="#222" stroke="#222" stroke-width="0.25" text-anchor="end" dominant-baseline="central" transform="rotate(376.83 64.48 171.23)">Or58 **</text>
<text x="69.26" y="157.19" fill="#222" stroke="#222" stroke-width="0.25" text-anchor="end" dominant-baseline="central" transform="rotate(380.75 69.26 157.19)">Or61 **</text>
<text x="74.99" y="143.51" fill="#222" stroke="#222" stroke-width="0.25" text-anchor="end" dominant-baseline="central" transform="rotate(384.67 74.99 143.51)">Or62 **</text>
<text x="81.64" y="130.25" fill="#222" stroke="#222" stroke-width="0.25" text-anchor="end" dominant-baseline="central" transform="rotate(388.59 81.64 130.25)">Or63 **</text>
<text x="89.18" y="117.47" fill="#222" stroke="#222" stroke-width="0.25" text-anchor="end" dominant-baseline="central" transform="rotate(392.51 89.18 117.47)">Or64 **</text>
<text x="97.58" y="105.24" fill="#222" stroke="#222" stroke-width="0.25" text-anchor="end" dominant-baseline="central" transform="rotate(396.43 97.58 105.24)">Or69 **</text>
<text x="106.79" y="93.62" fill="#222" stroke="#222" stroke-width="0.25" text-anchor="end" dominant-baseline="central" transform="rotate(400.36 106.79 93.62)">Or76 **</text>
<text x="116.78" y="82.65" fill="#222" stroke="#222" stroke-width="0.25" text-anchor="end" dominant-baseline="central" transform="rotate(404.28 116.78 82.65)">Or77 **</text>
<text x="127.49" y="72.39" fill="#222" stroke="#222" stroke-width="0.25" text-anchor="end" dominant-baseline="central" transform="rotate(408.20 127.49 72.39)">Or80 *</text>
<text x="138.88" y="62.88" fill="#222" stroke="#222" stroke-width="0.25" text-anchor="end" dominant-baseline="central" transform="rotate(412.12 138.88 62.88)">Or90 *</text>
<text x="150.89" y="54.18" fill="#222" stroke="#222" stroke-width="0.25" text-anchor="end" dominant-baseline="central" transform="rotate(416.04 150.89 54.18)">Or100 *</text>
<text x="191" y="75" fill="#222" stroke="#222" stroke-width="0.25" font-size="11.5" text-anchor="middle" dominant-baseline="central" transform="rotate(-30 191 75)">IBF</text>
<text x="237.2" y="155.8" fill="#222" stroke="#222" stroke-width="0.25" font-size="10.5" text-anchor="middle" dominant-baseline="central" transform="rotate(-32 237.2 155.8)">HF</text>
<rect x="254" y="23.5" width="20" height="158.5" fill="url(#cb)"/>
<line x1="274" y1="23.5" x2="274" y2="182" stroke="#222" stroke-width="1"/>
<line x1="274" y1="24.0" x2="277" y2="24.0" stroke="#222" stroke-width="1"/>
<text x="279" y="24.0" fill="#222" stroke="#222" stroke-width="0.2" font-size="12" dominant-baseline="central">700</text>
<line x1="274" y1="55.5" x2="277" y2="55.5" stroke="#222" stroke-width="1"/>
<text x="279" y="55.5" fill="#222" stroke="#222" stroke-width="0.2" font-size="12" dominant-baseline="central">600</text>
<line x1="274" y1="87.0" x2="277" y2="87.0" stroke="#222" stroke-width="1"/>
<text x="279" y="87.0" fill="#222" stroke="#222" stroke-width="0.2" font-size="12" dominant-baseline="central">500</text>
<line x1="274" y1="118.5" x2="277" y2="118.5" stroke="#222" stroke-width="1"/>
<text x="279" y="118.5" fill="#222" stroke="#222" stroke-width="0.2" font-size="12" dominant-baseline="central">400</text>
<line x1="274" y1="150.0" x2="277" y2="150.0" stroke="#222" stroke-width="1"/>
<text x="279" y="150.0" fill="#222" stroke="#222" stroke-width="0.2" font-size="12" dominant-baseline="central">300</text>
<line x1="274" y1="181.5" x2="277" y2="181.5" stroke="#222" stroke-width="1"/>
<text x="279" y="181.5" fill="#222" stroke="#222" stroke-width="0.2" font-size="12" dominant-baseline="central">200</text>
</g>
</svg></body></html>
